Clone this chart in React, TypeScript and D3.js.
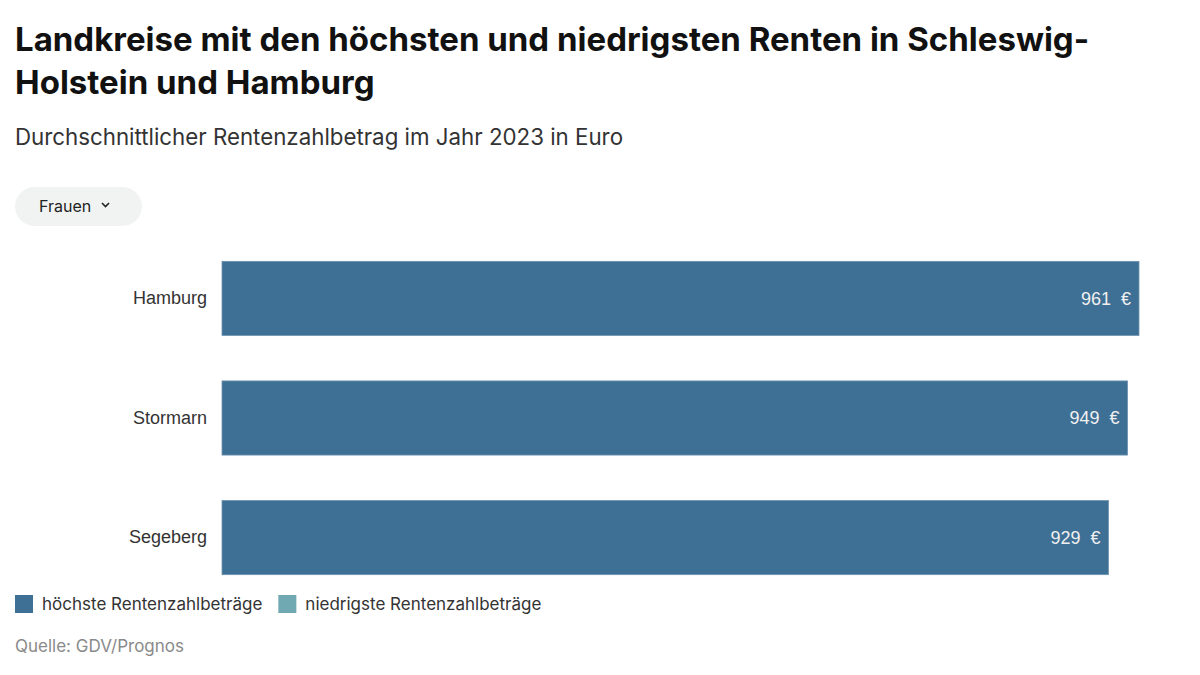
import React, { useEffect, useRef } from "react";
import * as d3 from "d3";

const regions = ["Hamburg", "Stormarn", "Segeberg"];
const pensions = [961, 949, 929];
const legendLabels = ["höchste Rentenzahlbeträge", "niedrigste Rentenzahlbeträge"];
const legendColors = ["#3e6f95", "#70a9b1"];

const W = 1200;
const H = 675;

export default function App() {
  const ref = useRef<SVGSVGElement>(null);

  useEffect(() => {
    const svg = d3.select(ref.current);
    svg.selectAll("*").remove();

    const font = "Inter, 'Noto Sans', sans-serif";
    const labelFont = "'Liberation Sans', Arial, sans-serif";

    // heading
    const title = svg.append("text")
      .attr("font-family", font)
      .attr("font-weight", 700)
      .attr("font-size", 33)
      .attr("fill", "#111");
    title.append("tspan").attr("x", 15).attr("y", 51)
      .text("Landkreise mit den höchsten und niedrigsten Renten in Schleswig-");
    title.append("tspan").attr("x", 15).attr("y", 94)
      .text("Holstein und Hamburg");

    svg.append("text")
      .attr("x", 15).attr("y", 145)
      .attr("font-family", font)
      .attr("font-size", 22.3)
      .attr("fill", "#333")
      .text("Durchschnittlicher Rentenzahlbetrag im Jahr 2023 in Euro");

    // dropdown pill
    const pill = svg.append("g");
    pill.append("rect")
      .attr("x", 15).attr("y", 187)
      .attr("width", 127).attr("height", 39)
      .attr("rx", 19.5)
      .attr("fill", "#f1f3f3");
    pill.append("text")
      .attr("x", 39).attr("y", 212)
      .attr("font-family", font)
      .attr("font-size", 16)
      .attr("fill", "#222")
      .text("Frauen");
    pill.append("path")
      .attr("d", "M102,203 L105.5,206.5 L109,203")
      .attr("fill", "none")
      .attr("stroke", "#222")
      .attr("stroke-width", 1.6);

    // bars
    const x = d3.scaleLinear().domain([0, 961]).range([222, 1139]);
    const y = d3.scaleBand<string>()
      .domain(regions)
      .range([241, 595])
      .paddingInner(0.38)
      .paddingOuter(0.17);

    const rows = svg.append("g")
      .selectAll("g")
      .data(regions.map((r, i) => ({ region: r, value: pensions[i] })))
      .join("g");

    rows.append("rect")
      .attr("x", x(0))
      .attr("y", d => y(d.region)!)
      .attr("width", d => x(d.value) - x(0))
      .attr("height", y.bandwidth())
      .attr("fill", legendColors[0])
      .attr("stroke", "#6f93b0")
      .attr("stroke-width", 0.8);

    rows.append("text")
      .attr("x", d => x(d.value) - 8)
      .attr("y", d => y(d.region)! + y.bandwidth() / 2)
      .attr("dy", "0.35em")
      .attr("text-anchor", "end")
      .attr("font-family", labelFont)
      .attr("font-size", 18)
      .attr("fill", "#f0f0f0")
      .attr("xml:space", "preserve")
      .text(d => `${d.value}  €`);

    // category axis
    const yAxis = svg.append("g")
      .attr("transform", "translate(207,0)")
      .call(d3.axisLeft(y).tickSize(0).tickPadding(0));
    yAxis.select(".domain").remove();
    yAxis.selectAll("text")
      .attr("font-family", labelFont)
      .attr("font-size", 18)
      .attr("fill", "#333");

    // legend
    const legend = svg.append("g");
    let lx = 15;
    legendLabels.forEach((label, i) => {
      legend.append("rect")
        .attr("x", lx).attr("y", 595)
        .attr("width", 18).attr("height", 18)
        .attr("fill", legendColors[i]);
      const t = legend.append("text")
        .attr("x", lx + 27).attr("y", 610)
        .attr("font-family", font)
        .attr("font-size", 17)
        .attr("fill", "#333")
        .text(label);
      const w = (t.node() as SVGTextElement).getComputedTextLength();
      lx += 27 + w + 16;
    });

    svg.append("text")
      .attr("x", 15).attr("y", 652)
      .attr("font-family", font)
      .attr("font-size", 17)
      .attr("fill", "#8a8a8a")
      .text("Quelle: GDV/Prognos");
  }, []);

  return (
    <svg
      ref={ref}
      width={W}
      height={H}
      style={{ position: "absolute", left: 0, top: 0, background: "#fff" }}
    />
  );
}
